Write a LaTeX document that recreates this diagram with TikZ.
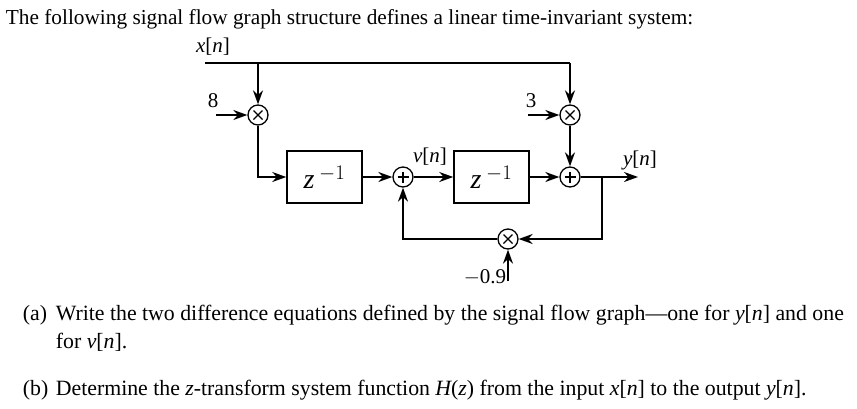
\documentclass[tikz,border=0pt]{standalone}
\usepackage{fontspec}
\setmainfont{Liberation Serif}
\usetikzlibrary{arrows.meta}
\begin{document}
\begin{tikzpicture}[x=1pt,y=-1pt,
  line width=1.8pt,
  arr/.style={-{Stealth[length=14pt,width=10pt]}},
  mul/.style={circle,draw,line width=1.3pt,minimum size=20pt,inner sep=0pt,path picture={\draw[line width=1.3pt] (path picture bounding box.north west)++(5.5pt,-5.5pt) -- ++(9pt,-9pt) (path picture bounding box.north east)++(-5.5pt,-5.5pt) -- ++(-9pt,-9pt);}},
  sumn/.style={circle,draw,line width=1.3pt,minimum size=20pt,inner sep=0pt,path picture={\draw[line width=1.6pt] (path picture bounding box.center)++(-5.5pt,0) -- ++(11pt,0) (path picture bounding box.center)++(0,-5.5pt) -- ++(0,11pt);}},
  dly/.style={draw,line width=1.5pt,minimum width=75pt,minimum height=52pt,font=\fontsize{28}{28}\selectfont},
  lab/.style={font=\fontsize{21}{21}\selectfont,inner sep=0pt},
  txt/.style={font=\fontsize{21.8}{24}\selectfont,inner sep=0pt,anchor=base west}]
\useasboundingbox (0,0) rectangle (857,408);
\node[txt,font=\fontsize{21.3}{24}\selectfont] (title) at (5,24) {The following signal flow graph structure defines a linear time-invariant system:};
\node[lab] (xl) at (213,47) {\itshape x\upshape[\itshape n\upshape]};
\coordinate (xs) at (205,63);
\coordinate (xt1) at (258,63);
\coordinate (xt2) at (570,63);
\node[mul] (m1) at (258,115) {};
\node[mul] (m2) at (570,115) {};
\node[mul] (m3) at (508,239) {};
\node[sumn] (s1) at (403,177) {};
\node[sumn] (s2) at (570,177) {};
\node[dly] (d1) at (324.5,177) {\itshape z\upshape\,$^{-1}$};
\node[dly] (d2) at (491.5,177) {\itshape z\upshape\,$^{-1}$};
\coordinate (g8) at (216,115);
\coordinate (g3) at (528,115);
\coordinate (g9) at (508,281);
\coordinate (c1) at (258,177);
\coordinate (br) at (602,177);
\coordinate (br2) at (602,239);
\coordinate (c3) at (403,239);
\coordinate (yo) at (638,177);
\node[lab] (l8) at (213,101) {8};
\node[lab] (l3) at (531,101) {3};
\node[lab] (l9) at (485,277) {$-$0.9};
\node[lab] (lv) at (430,157) {\itshape v\upshape[\itshape n\upshape]};
\node[lab] (ly) at (640,160) {\itshape y\upshape[\itshape n\upshape]};
\draw (xs) -- (xt2);
\draw[arr] (xt1) -- (m1);
\draw[arr] (xt2) -- (m2);
\draw[arr] (g8) -- (m1);
\draw[arr] (g3) -- (m2);
\draw[arr] (m1) -- (c1) -- (d1);
\draw[arr] (d1) -- (s1);
\draw[arr] (s1) -- (d2);
\draw[arr] (d2) -- (s2);
\draw[arr] (m2) -- (s2);
\draw[arr] (s2) -- (yo);
\draw[arr] (br) -- (br2) -- (m3);
\draw[arr] (m3) -- (c3) -- (s1);
\draw[arr] (g9) -- (m3);
\node[txt] (pa) at (22,320) {(a)};
\node[txt] (pa1) at (55,320) {Write the two difference equations defined by the signal flow graph---one for \itshape y\upshape[\itshape n\upshape] and one};
\node[txt] (pa2) at (55,348) {for \itshape v\upshape[\itshape n\upshape].};
\node[txt] (pb) at (22,395) {(b)};
\node[txt] (pb1) at (55,395) {Determine the \itshape z\upshape-transform system function \itshape H\upshape(\itshape z\upshape) from the input \itshape x\upshape[\itshape n\upshape] to the output \itshape y\upshape[\itshape n\upshape].};
\end{tikzpicture}
\end{document}
